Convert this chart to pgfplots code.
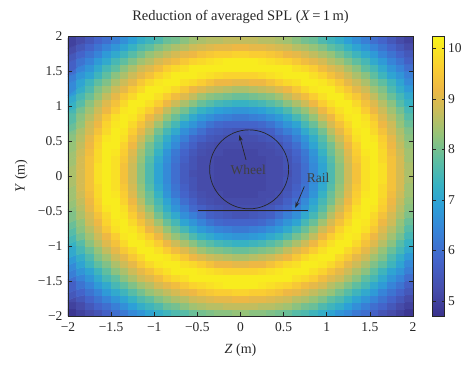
\documentclass[border=0pt]{standalone}
\usepackage{pgfplots}
\pgfplotsset{compat=1.18}
\usepackage{fontspec}
\setmainfont{Liberation Serif}
\usetikzlibrary{arrows.meta}
\definecolor{txt}{RGB}{40,40,40}
\begin{document}
\begin{tikzpicture}
\useasboundingbox (-68pt,-57pt) rectangle (406pt,316pt);
\begin{axis}[
  scale only axis, width=345pt, height=280pt,
  xmin=-2, xmax=2, ymin=-2, ymax=2,
  enlargelimits=false, axis on top,
  xtick={-2,-1.5,-1,-0.5,0,0.5,1,1.5,2},
  xticklabels={−2,−1.5,−1,−0.5,0,0.5,1,1.5,2},
  ytick={-2,-1.5,-1,-0.5,0,0.5,1,1.5,2},
  yticklabels={−2,−1.5,−1,−0.5,0,0.5,1,1.5,2},
  tick align=inside, major tick length=4pt,
  axis line style={gray!30!black, line width=0.5pt},
  tick style={gray!30!black, line width=0.5pt},
  ticklabel style={font=\fontsize{13.5}{15}\selectfont, text=txt},
  xticklabel style={anchor=base, yshift=-15pt},
  yticklabel style={xshift=-2pt},
  title={Reduction of averaged SPL (\textit{X}\,=\,1\,m)},
  title style={at={(0.5,1)}, anchor=base, yshift=10pt, font=\fontsize{14.5}{16}\selectfont, text=txt},
  xlabel={\textit{Z} (m)},
  xlabel style={at={(0.5,0)}, anchor=base, yshift=-37pt, font=\fontsize{14}{16}\selectfont, text=txt},
  ylabel={\textit{Y} (m)},
  ylabel style={at={(-0.126,0.5)}, anchor=base, font=\fontsize{14}{16}\selectfont, text=txt},
  colormap={parulaw}{
    rgb255(4.70cm)=(58,50,140)
    rgb255(5.20cm)=(70,76,170)
    rgb255(5.80cm)=(68,100,202)
    rgb255(6.40cm)=(55,132,216)
    rgb255(6.90cm)=(45,160,215)
    rgb255(7.30cm)=(55,178,195)
    rgb255(7.80cm)=(95,190,160)
    rgb255(8.30cm)=(150,195,120)
    rgb255(8.80cm)=(205,188,88)
    rgb255(9.20cm)=(238,184,68)
    rgb255(9.60cm)=(250,205,50)
    rgb255(10.24cm)=(248,245,25)},
  point meta min=4.70, point meta max=10.24,
  colorbar,
  colorbar style={
    at={(parent axis.north east)}, anchor=north west, xshift=11pt,
    width=12pt,
    ytick={5,6,7,8,9,10}, yticklabels={5,6,7,8,9,10},
    yticklabel style={font=\fontsize{13.5}{15}\selectfont, text=txt},
    axis line style={gray!30!black, line width=0.5pt},
    tick style={gray!30!black}, major tick length=3pt,
  },
]
\addplot[matrix plot*, mesh/cols=40, mesh/rows=40, mesh/ordering=x varies, point meta=explicit]
 table[row sep=\\, header=false, meta index=0,
       x expr={-1.95+0.1*mod(\coordindex,40)},
       y expr={-1.95+0.1*floor(\coordindex/40)}] {
4.8\\ 5.0\\ 5.2\\ 5.4\\ 5.7\\ 6.0\\ 6.2\\ 6.5\\ 6.7\\ 7.0\\ 7.2\\ 7.4\\ 7.6\\ 7.7\\ 7.9\\ 8.0\\ 8.1\\ 8.2\\ 8.2\\ 8.3\\ 8.3\\ 8.2\\ 8.2\\ 8.1\\ 8.0\\ 7.9\\ 7.7\\ 7.6\\ 7.4\\ 7.2\\ 7.0\\ 6.7\\ 6.5\\ 6.2\\ 6.0\\ 5.7\\ 5.4\\ 5.2\\ 5.0\\ 4.8\\
5.0\\ 5.2\\ 5.5\\ 5.8\\ 6.0\\ 6.3\\ 6.6\\ 6.9\\ 7.2\\ 7.4\\ 7.6\\ 7.9\\ 8.0\\ 8.2\\ 8.4\\ 8.5\\ 8.6\\ 8.6\\ 8.7\\ 8.7\\ 8.7\\ 8.7\\ 8.6\\ 8.6\\ 8.5\\ 8.4\\ 8.2\\ 8.0\\ 7.9\\ 7.6\\ 7.4\\ 7.2\\ 6.9\\ 6.6\\ 6.3\\ 6.0\\ 5.8\\ 5.5\\ 5.2\\ 5.0\\
5.2\\ 5.5\\ 5.8\\ 6.1\\ 6.4\\ 6.7\\ 7.0\\ 7.3\\ 7.6\\ 7.8\\ 8.1\\ 8.3\\ 8.5\\ 8.6\\ 8.8\\ 8.9\\ 9.0\\ 9.1\\ 9.1\\ 9.2\\ 9.2\\ 9.1\\ 9.1\\ 9.0\\ 8.9\\ 8.8\\ 8.6\\ 8.5\\ 8.3\\ 8.1\\ 7.8\\ 7.6\\ 7.3\\ 7.0\\ 6.7\\ 6.4\\ 6.1\\ 5.8\\ 5.5\\ 5.2\\
5.5\\ 5.8\\ 6.1\\ 6.4\\ 6.8\\ 7.1\\ 7.4\\ 7.7\\ 8.0\\ 8.3\\ 8.5\\ 8.7\\ 8.9\\ 9.1\\ 9.2\\ 9.4\\ 9.5\\ 9.6\\ 9.6\\ 9.7\\ 9.7\\ 9.6\\ 9.6\\ 9.5\\ 9.4\\ 9.2\\ 9.1\\ 8.9\\ 8.7\\ 8.5\\ 8.3\\ 8.0\\ 7.7\\ 7.4\\ 7.1\\ 6.8\\ 6.4\\ 6.1\\ 5.8\\ 5.5\\
5.7\\ 6.1\\ 6.4\\ 6.8\\ 7.1\\ 7.5\\ 7.8\\ 8.1\\ 8.4\\ 8.6\\ 8.9\\ 9.1\\ 9.3\\ 9.5\\ 9.7\\ 9.8\\ 9.9\\ 10.0\\ 10.1\\ 10.1\\ 10.1\\ 10.1\\ 10.0\\ 9.9\\ 9.8\\ 9.7\\ 9.5\\ 9.3\\ 9.1\\ 8.9\\ 8.6\\ 8.4\\ 8.1\\ 7.8\\ 7.5\\ 7.1\\ 6.8\\ 6.4\\ 6.1\\ 5.7\\
6.0\\ 6.4\\ 6.7\\ 7.1\\ 7.5\\ 7.8\\ 8.2\\ 8.5\\ 8.8\\ 9.0\\ 9.3\\ 9.6\\ 9.8\\ 9.9\\ 10.1\\ 10.1\\ 10.1\\ 10.1\\ 10.1\\ 10.1\\ 10.1\\ 10.1\\ 10.1\\ 10.1\\ 10.1\\ 10.1\\ 9.9\\ 9.8\\ 9.6\\ 9.3\\ 9.0\\ 8.8\\ 8.5\\ 8.2\\ 7.8\\ 7.5\\ 7.1\\ 6.7\\ 6.4\\ 6.0\\
6.3\\ 6.7\\ 7.0\\ 7.4\\ 7.8\\ 8.2\\ 8.5\\ 8.8\\ 9.1\\ 9.4\\ 9.7\\ 9.9\\ 10.1\\ 10.1\\ 10.1\\ 10.0\\ 9.9\\ 9.8\\ 9.7\\ 9.7\\ 9.7\\ 9.7\\ 9.8\\ 9.9\\ 10.0\\ 10.1\\ 10.1\\ 10.1\\ 9.9\\ 9.7\\ 9.4\\ 9.1\\ 8.8\\ 8.5\\ 8.2\\ 7.8\\ 7.4\\ 7.0\\ 6.7\\ 6.3\\
6.5\\ 7.0\\ 7.4\\ 7.8\\ 8.1\\ 8.5\\ 8.8\\ 9.1\\ 9.5\\ 9.8\\ 10.0\\ 10.1\\ 10.1\\ 9.9\\ 9.8\\ 9.6\\ 9.4\\ 9.2\\ 9.2\\ 9.1\\ 9.1\\ 9.2\\ 9.2\\ 9.4\\ 9.6\\ 9.8\\ 9.9\\ 10.1\\ 10.1\\ 10.0\\ 9.8\\ 9.5\\ 9.1\\ 8.8\\ 8.5\\ 8.1\\ 7.8\\ 7.4\\ 7.0\\ 6.5\\
6.8\\ 7.2\\ 7.6\\ 8.1\\ 8.4\\ 8.8\\ 9.1\\ 9.5\\ 9.8\\ 10.1\\ 10.1\\ 10.0\\ 9.8\\ 9.5\\ 9.2\\ 9.0\\ 8.8\\ 8.7\\ 8.6\\ 8.5\\ 8.5\\ 8.6\\ 8.7\\ 8.8\\ 9.0\\ 9.2\\ 9.5\\ 9.8\\ 10.0\\ 10.1\\ 10.1\\ 9.8\\ 9.5\\ 9.1\\ 8.8\\ 8.4\\ 8.1\\ 7.6\\ 7.2\\ 6.8\\
7.1\\ 7.5\\ 7.9\\ 8.3\\ 8.7\\ 9.1\\ 9.5\\ 9.8\\ 10.1\\ 10.1\\ 9.9\\ 9.6\\ 9.3\\ 9.0\\ 8.7\\ 8.4\\ 8.2\\ 8.1\\ 8.0\\ 7.9\\ 7.9\\ 8.0\\ 8.1\\ 8.2\\ 8.4\\ 8.7\\ 9.0\\ 9.3\\ 9.6\\ 9.9\\ 10.1\\ 10.1\\ 9.8\\ 9.5\\ 9.1\\ 8.7\\ 8.3\\ 7.9\\ 7.5\\ 7.1\\
7.3\\ 7.7\\ 8.2\\ 8.6\\ 9.0\\ 9.4\\ 9.8\\ 10.1\\ 10.1\\ 9.9\\ 9.6\\ 9.2\\ 8.8\\ 8.5\\ 8.2\\ 7.9\\ 7.7\\ 7.5\\ 7.4\\ 7.3\\ 7.3\\ 7.4\\ 7.5\\ 7.7\\ 7.9\\ 8.2\\ 8.5\\ 8.8\\ 9.2\\ 9.6\\ 9.9\\ 10.1\\ 10.1\\ 9.8\\ 9.4\\ 9.0\\ 8.6\\ 8.2\\ 7.7\\ 7.3\\
7.5\\ 8.0\\ 8.4\\ 8.8\\ 9.2\\ 9.6\\ 10.0\\ 10.1\\ 9.9\\ 9.6\\ 9.2\\ 8.7\\ 8.3\\ 8.0\\ 7.6\\ 7.3\\ 7.1\\ 6.9\\ 6.8\\ 6.7\\ 6.7\\ 6.8\\ 6.9\\ 7.1\\ 7.3\\ 7.6\\ 8.0\\ 8.3\\ 8.7\\ 9.2\\ 9.6\\ 9.9\\ 10.1\\ 10.0\\ 9.6\\ 9.2\\ 8.8\\ 8.4\\ 8.0\\ 7.5\\
7.7\\ 8.2\\ 8.6\\ 9.0\\ 9.5\\ 9.9\\ 10.1\\ 10.0\\ 9.7\\ 9.2\\ 8.8\\ 8.3\\ 7.9\\ 7.5\\ 7.1\\ 6.8\\ 6.6\\ 6.4\\ 6.3\\ 6.2\\ 6.2\\ 6.3\\ 6.4\\ 6.6\\ 6.8\\ 7.1\\ 7.5\\ 7.9\\ 8.3\\ 8.8\\ 9.2\\ 9.7\\ 10.0\\ 10.1\\ 9.9\\ 9.5\\ 9.0\\ 8.6\\ 8.2\\ 7.7\\
7.9\\ 8.3\\ 8.8\\ 9.2\\ 9.7\\ 10.0\\ 10.1\\ 9.8\\ 9.4\\ 8.9\\ 8.4\\ 7.9\\ 7.5\\ 7.0\\ 6.7\\ 6.4\\ 6.1\\ 5.9\\ 5.8\\ 5.8\\ 5.8\\ 5.8\\ 5.9\\ 6.1\\ 6.4\\ 6.7\\ 7.0\\ 7.5\\ 7.9\\ 8.4\\ 8.9\\ 9.4\\ 9.8\\ 10.1\\ 10.0\\ 9.7\\ 9.2\\ 8.8\\ 8.3\\ 7.9\\
8.1\\ 8.5\\ 8.9\\ 9.4\\ 9.8\\ 10.1\\ 10.0\\ 9.6\\ 9.1\\ 8.6\\ 8.0\\ 7.5\\ 7.1\\ 6.6\\ 6.3\\ 6.0\\ 5.7\\ 5.6\\ 5.5\\ 5.4\\ 5.4\\ 5.5\\ 5.6\\ 5.7\\ 6.0\\ 6.3\\ 6.6\\ 7.1\\ 7.5\\ 8.0\\ 8.6\\ 9.1\\ 9.6\\ 10.0\\ 10.1\\ 9.8\\ 9.4\\ 8.9\\ 8.5\\ 8.1\\
8.2\\ 8.6\\ 9.1\\ 9.6\\ 10.0\\ 10.1\\ 9.9\\ 9.4\\ 8.8\\ 8.3\\ 7.7\\ 7.2\\ 6.7\\ 6.3\\ 5.9\\ 5.7\\ 5.5\\ 5.4\\ 5.3\\ 5.3\\ 5.3\\ 5.3\\ 5.4\\ 5.5\\ 5.7\\ 5.9\\ 6.3\\ 6.7\\ 7.2\\ 7.7\\ 8.3\\ 8.8\\ 9.4\\ 9.9\\ 10.1\\ 10.0\\ 9.6\\ 9.1\\ 8.6\\ 8.2\\
8.3\\ 8.7\\ 9.2\\ 9.7\\ 10.1\\ 10.1\\ 9.7\\ 9.2\\ 8.6\\ 8.0\\ 7.5\\ 7.0\\ 6.5\\ 6.0\\ 5.7\\ 5.4\\ 5.3\\ 5.2\\ 5.2\\ 5.2\\ 5.2\\ 5.2\\ 5.2\\ 5.3\\ 5.4\\ 5.7\\ 6.0\\ 6.5\\ 7.0\\ 7.5\\ 8.0\\ 8.6\\ 9.2\\ 9.7\\ 10.1\\ 10.1\\ 9.7\\ 9.2\\ 8.7\\ 8.3\\
8.4\\ 8.8\\ 9.3\\ 9.8\\ 10.1\\ 10.0\\ 9.6\\ 9.0\\ 8.4\\ 7.9\\ 7.3\\ 6.7\\ 6.2\\ 5.8\\ 5.5\\ 5.3\\ 5.2\\ 5.2\\ 5.1\\ 5.1\\ 5.1\\ 5.1\\ 5.2\\ 5.2\\ 5.3\\ 5.5\\ 5.8\\ 6.2\\ 6.7\\ 7.3\\ 7.9\\ 8.4\\ 9.0\\ 9.6\\ 10.0\\ 10.1\\ 9.8\\ 9.3\\ 8.8\\ 8.4\\
8.4\\ 8.9\\ 9.4\\ 9.8\\ 10.1\\ 9.9\\ 9.5\\ 8.9\\ 8.3\\ 7.7\\ 7.1\\ 6.6\\ 6.1\\ 5.7\\ 5.4\\ 5.2\\ 5.2\\ 5.1\\ 5.1\\ 5.1\\ 5.1\\ 5.1\\ 5.1\\ 5.2\\ 5.2\\ 5.4\\ 5.7\\ 6.1\\ 6.6\\ 7.1\\ 7.7\\ 8.3\\ 8.9\\ 9.5\\ 9.9\\ 10.1\\ 9.8\\ 9.4\\ 8.9\\ 8.4\\
8.5\\ 8.9\\ 9.4\\ 9.9\\ 10.1\\ 9.9\\ 9.4\\ 8.8\\ 8.2\\ 7.6\\ 7.0\\ 6.5\\ 6.0\\ 5.6\\ 5.4\\ 5.2\\ 5.2\\ 5.1\\ 5.1\\ 5.1\\ 5.1\\ 5.1\\ 5.1\\ 5.2\\ 5.2\\ 5.4\\ 5.6\\ 6.0\\ 6.5\\ 7.0\\ 7.6\\ 8.2\\ 8.8\\ 9.4\\ 9.9\\ 10.1\\ 9.9\\ 9.4\\ 8.9\\ 8.5\\
8.5\\ 8.9\\ 9.4\\ 9.9\\ 10.1\\ 9.9\\ 9.4\\ 8.8\\ 8.2\\ 7.6\\ 7.0\\ 6.5\\ 6.0\\ 5.6\\ 5.3\\ 5.2\\ 5.2\\ 5.1\\ 5.1\\ 5.1\\ 5.1\\ 5.1\\ 5.1\\ 5.2\\ 5.2\\ 5.3\\ 5.6\\ 6.0\\ 6.5\\ 7.0\\ 7.6\\ 8.2\\ 8.8\\ 9.4\\ 9.9\\ 10.1\\ 9.9\\ 9.4\\ 8.9\\ 8.5\\
8.5\\ 8.9\\ 9.4\\ 9.9\\ 10.1\\ 9.9\\ 9.4\\ 8.8\\ 8.2\\ 7.6\\ 7.0\\ 6.5\\ 6.0\\ 5.6\\ 5.4\\ 5.2\\ 5.2\\ 5.1\\ 5.1\\ 5.1\\ 5.1\\ 5.1\\ 5.1\\ 5.2\\ 5.2\\ 5.4\\ 5.6\\ 6.0\\ 6.5\\ 7.0\\ 7.6\\ 8.2\\ 8.8\\ 9.4\\ 9.9\\ 10.1\\ 9.9\\ 9.4\\ 8.9\\ 8.5\\
8.4\\ 8.9\\ 9.4\\ 9.8\\ 10.1\\ 9.9\\ 9.5\\ 8.9\\ 8.3\\ 7.7\\ 7.1\\ 6.6\\ 6.1\\ 5.7\\ 5.4\\ 5.2\\ 5.2\\ 5.1\\ 5.1\\ 5.1\\ 5.1\\ 5.1\\ 5.1\\ 5.2\\ 5.2\\ 5.4\\ 5.7\\ 6.1\\ 6.6\\ 7.1\\ 7.7\\ 8.3\\ 8.9\\ 9.5\\ 9.9\\ 10.1\\ 9.8\\ 9.4\\ 8.9\\ 8.4\\
8.4\\ 8.8\\ 9.3\\ 9.8\\ 10.1\\ 10.0\\ 9.6\\ 9.0\\ 8.4\\ 7.9\\ 7.3\\ 6.7\\ 6.2\\ 5.8\\ 5.5\\ 5.3\\ 5.2\\ 5.2\\ 5.1\\ 5.1\\ 5.1\\ 5.1\\ 5.2\\ 5.2\\ 5.3\\ 5.5\\ 5.8\\ 6.2\\ 6.7\\ 7.3\\ 7.9\\ 8.4\\ 9.0\\ 9.6\\ 10.0\\ 10.1\\ 9.8\\ 9.3\\ 8.8\\ 8.4\\
8.3\\ 8.7\\ 9.2\\ 9.7\\ 10.1\\ 10.1\\ 9.7\\ 9.2\\ 8.6\\ 8.0\\ 7.5\\ 7.0\\ 6.5\\ 6.0\\ 5.7\\ 5.4\\ 5.3\\ 5.2\\ 5.2\\ 5.2\\ 5.2\\ 5.2\\ 5.2\\ 5.3\\ 5.4\\ 5.7\\ 6.0\\ 6.5\\ 7.0\\ 7.5\\ 8.0\\ 8.6\\ 9.2\\ 9.7\\ 10.1\\ 10.1\\ 9.7\\ 9.2\\ 8.7\\ 8.3\\
8.2\\ 8.6\\ 9.1\\ 9.6\\ 10.0\\ 10.1\\ 9.9\\ 9.4\\ 8.8\\ 8.3\\ 7.7\\ 7.2\\ 6.7\\ 6.3\\ 5.9\\ 5.7\\ 5.5\\ 5.4\\ 5.3\\ 5.3\\ 5.3\\ 5.3\\ 5.4\\ 5.5\\ 5.7\\ 5.9\\ 6.3\\ 6.7\\ 7.2\\ 7.7\\ 8.3\\ 8.8\\ 9.4\\ 9.9\\ 10.1\\ 10.0\\ 9.6\\ 9.1\\ 8.6\\ 8.2\\
8.1\\ 8.5\\ 8.9\\ 9.4\\ 9.8\\ 10.1\\ 10.0\\ 9.6\\ 9.1\\ 8.6\\ 8.0\\ 7.5\\ 7.1\\ 6.6\\ 6.3\\ 6.0\\ 5.7\\ 5.6\\ 5.5\\ 5.4\\ 5.4\\ 5.5\\ 5.6\\ 5.7\\ 6.0\\ 6.3\\ 6.6\\ 7.1\\ 7.5\\ 8.0\\ 8.6\\ 9.1\\ 9.6\\ 10.0\\ 10.1\\ 9.8\\ 9.4\\ 8.9\\ 8.5\\ 8.1\\
7.9\\ 8.3\\ 8.8\\ 9.2\\ 9.7\\ 10.0\\ 10.1\\ 9.8\\ 9.4\\ 8.9\\ 8.4\\ 7.9\\ 7.5\\ 7.0\\ 6.7\\ 6.4\\ 6.1\\ 5.9\\ 5.8\\ 5.8\\ 5.8\\ 5.8\\ 5.9\\ 6.1\\ 6.4\\ 6.7\\ 7.0\\ 7.5\\ 7.9\\ 8.4\\ 8.9\\ 9.4\\ 9.8\\ 10.1\\ 10.0\\ 9.7\\ 9.2\\ 8.8\\ 8.3\\ 7.9\\
7.7\\ 8.2\\ 8.6\\ 9.0\\ 9.5\\ 9.9\\ 10.1\\ 10.0\\ 9.7\\ 9.2\\ 8.8\\ 8.3\\ 7.9\\ 7.5\\ 7.1\\ 6.8\\ 6.6\\ 6.4\\ 6.3\\ 6.2\\ 6.2\\ 6.3\\ 6.4\\ 6.6\\ 6.8\\ 7.1\\ 7.5\\ 7.9\\ 8.3\\ 8.8\\ 9.2\\ 9.7\\ 10.0\\ 10.1\\ 9.9\\ 9.5\\ 9.0\\ 8.6\\ 8.2\\ 7.7\\
7.5\\ 8.0\\ 8.4\\ 8.8\\ 9.2\\ 9.6\\ 10.0\\ 10.1\\ 9.9\\ 9.6\\ 9.2\\ 8.7\\ 8.3\\ 8.0\\ 7.6\\ 7.3\\ 7.1\\ 6.9\\ 6.8\\ 6.7\\ 6.7\\ 6.8\\ 6.9\\ 7.1\\ 7.3\\ 7.6\\ 8.0\\ 8.3\\ 8.7\\ 9.2\\ 9.6\\ 9.9\\ 10.1\\ 10.0\\ 9.6\\ 9.2\\ 8.8\\ 8.4\\ 8.0\\ 7.5\\
7.3\\ 7.7\\ 8.2\\ 8.6\\ 9.0\\ 9.4\\ 9.8\\ 10.1\\ 10.1\\ 9.9\\ 9.6\\ 9.2\\ 8.8\\ 8.5\\ 8.2\\ 7.9\\ 7.7\\ 7.5\\ 7.4\\ 7.3\\ 7.3\\ 7.4\\ 7.5\\ 7.7\\ 7.9\\ 8.2\\ 8.5\\ 8.8\\ 9.2\\ 9.6\\ 9.9\\ 10.1\\ 10.1\\ 9.8\\ 9.4\\ 9.0\\ 8.6\\ 8.2\\ 7.7\\ 7.3\\
7.1\\ 7.5\\ 7.9\\ 8.3\\ 8.7\\ 9.1\\ 9.5\\ 9.8\\ 10.1\\ 10.1\\ 9.9\\ 9.6\\ 9.3\\ 9.0\\ 8.7\\ 8.4\\ 8.2\\ 8.1\\ 8.0\\ 7.9\\ 7.9\\ 8.0\\ 8.1\\ 8.2\\ 8.4\\ 8.7\\ 9.0\\ 9.3\\ 9.6\\ 9.9\\ 10.1\\ 10.1\\ 9.8\\ 9.5\\ 9.1\\ 8.7\\ 8.3\\ 7.9\\ 7.5\\ 7.1\\
6.8\\ 7.2\\ 7.6\\ 8.1\\ 8.4\\ 8.8\\ 9.1\\ 9.5\\ 9.8\\ 10.1\\ 10.1\\ 10.0\\ 9.8\\ 9.5\\ 9.2\\ 9.0\\ 8.8\\ 8.7\\ 8.6\\ 8.5\\ 8.5\\ 8.6\\ 8.7\\ 8.8\\ 9.0\\ 9.2\\ 9.5\\ 9.8\\ 10.0\\ 10.1\\ 10.1\\ 9.8\\ 9.5\\ 9.1\\ 8.8\\ 8.4\\ 8.1\\ 7.6\\ 7.2\\ 6.8\\
6.5\\ 7.0\\ 7.4\\ 7.8\\ 8.1\\ 8.5\\ 8.8\\ 9.1\\ 9.5\\ 9.8\\ 10.0\\ 10.1\\ 10.1\\ 9.9\\ 9.8\\ 9.6\\ 9.4\\ 9.2\\ 9.2\\ 9.1\\ 9.1\\ 9.2\\ 9.2\\ 9.4\\ 9.6\\ 9.8\\ 9.9\\ 10.1\\ 10.1\\ 10.0\\ 9.8\\ 9.5\\ 9.1\\ 8.8\\ 8.5\\ 8.1\\ 7.8\\ 7.4\\ 7.0\\ 6.5\\
6.3\\ 6.7\\ 7.0\\ 7.4\\ 7.8\\ 8.2\\ 8.5\\ 8.8\\ 9.1\\ 9.4\\ 9.7\\ 9.9\\ 10.1\\ 10.1\\ 10.1\\ 10.0\\ 9.9\\ 9.8\\ 9.7\\ 9.7\\ 9.7\\ 9.7\\ 9.8\\ 9.9\\ 10.0\\ 10.1\\ 10.1\\ 10.1\\ 9.9\\ 9.7\\ 9.4\\ 9.1\\ 8.8\\ 8.5\\ 8.2\\ 7.8\\ 7.4\\ 7.0\\ 6.7\\ 6.3\\
6.0\\ 6.4\\ 6.7\\ 7.1\\ 7.5\\ 7.8\\ 8.2\\ 8.5\\ 8.8\\ 9.0\\ 9.3\\ 9.6\\ 9.8\\ 9.9\\ 10.1\\ 10.1\\ 10.1\\ 10.1\\ 10.1\\ 10.1\\ 10.1\\ 10.1\\ 10.1\\ 10.1\\ 10.1\\ 10.1\\ 9.9\\ 9.8\\ 9.6\\ 9.3\\ 9.0\\ 8.8\\ 8.5\\ 8.2\\ 7.8\\ 7.5\\ 7.1\\ 6.7\\ 6.4\\ 6.0\\
5.7\\ 6.1\\ 6.4\\ 6.8\\ 7.1\\ 7.5\\ 7.8\\ 8.1\\ 8.4\\ 8.6\\ 8.9\\ 9.1\\ 9.3\\ 9.5\\ 9.7\\ 9.8\\ 9.9\\ 10.0\\ 10.1\\ 10.1\\ 10.1\\ 10.1\\ 10.0\\ 9.9\\ 9.8\\ 9.7\\ 9.5\\ 9.3\\ 9.1\\ 8.9\\ 8.6\\ 8.4\\ 8.1\\ 7.8\\ 7.5\\ 7.1\\ 6.8\\ 6.4\\ 6.1\\ 5.7\\
5.5\\ 5.8\\ 6.1\\ 6.4\\ 6.8\\ 7.1\\ 7.4\\ 7.7\\ 8.0\\ 8.3\\ 8.5\\ 8.7\\ 8.9\\ 9.1\\ 9.2\\ 9.4\\ 9.5\\ 9.6\\ 9.6\\ 9.7\\ 9.7\\ 9.6\\ 9.6\\ 9.5\\ 9.4\\ 9.2\\ 9.1\\ 8.9\\ 8.7\\ 8.5\\ 8.3\\ 8.0\\ 7.7\\ 7.4\\ 7.1\\ 6.8\\ 6.4\\ 6.1\\ 5.8\\ 5.5\\
5.2\\ 5.5\\ 5.8\\ 6.1\\ 6.4\\ 6.7\\ 7.0\\ 7.3\\ 7.6\\ 7.8\\ 8.1\\ 8.3\\ 8.5\\ 8.6\\ 8.8\\ 8.9\\ 9.0\\ 9.1\\ 9.1\\ 9.2\\ 9.2\\ 9.1\\ 9.1\\ 9.0\\ 8.9\\ 8.8\\ 8.6\\ 8.5\\ 8.3\\ 8.1\\ 7.8\\ 7.6\\ 7.3\\ 7.0\\ 6.7\\ 6.4\\ 6.1\\ 5.8\\ 5.5\\ 5.2\\
5.0\\ 5.2\\ 5.5\\ 5.8\\ 6.0\\ 6.3\\ 6.6\\ 6.9\\ 7.2\\ 7.4\\ 7.6\\ 7.9\\ 8.0\\ 8.2\\ 8.4\\ 8.5\\ 8.6\\ 8.6\\ 8.7\\ 8.7\\ 8.7\\ 8.7\\ 8.6\\ 8.6\\ 8.5\\ 8.4\\ 8.2\\ 8.0\\ 7.9\\ 7.6\\ 7.4\\ 7.2\\ 6.9\\ 6.6\\ 6.3\\ 6.0\\ 5.8\\ 5.5\\ 5.2\\ 5.0\\
};
\draw[black!85, line width=0.7pt] (axis cs:0.1,0.095) circle[radius=39.5pt];
\draw[black!85, line width=0.7pt] (axis cs:-0.49,-0.49) -- (axis cs:0.78,-0.49);
\node[font=\fontsize{13.5}{15}\selectfont, text=black!75] at (axis cs:0.09,0.08) {Wheel};
\draw[black!85, line width=0.7pt, -{Stealth[length=6pt,width=4pt]}] (axis cs:0.064,0.23) -- (axis cs:-0.014,0.586);
\node[font=\fontsize{13.5}{15}\selectfont, text=black!75] at (axis cs:0.9,-0.03) {Rail};
\draw[black!85, line width=0.7pt, -{Stealth[length=6pt,width=4pt]}] (axis cs:0.74,-0.15) -- (axis cs:0.635,-0.455);
\end{axis}
\end{tikzpicture}
\end{document}
